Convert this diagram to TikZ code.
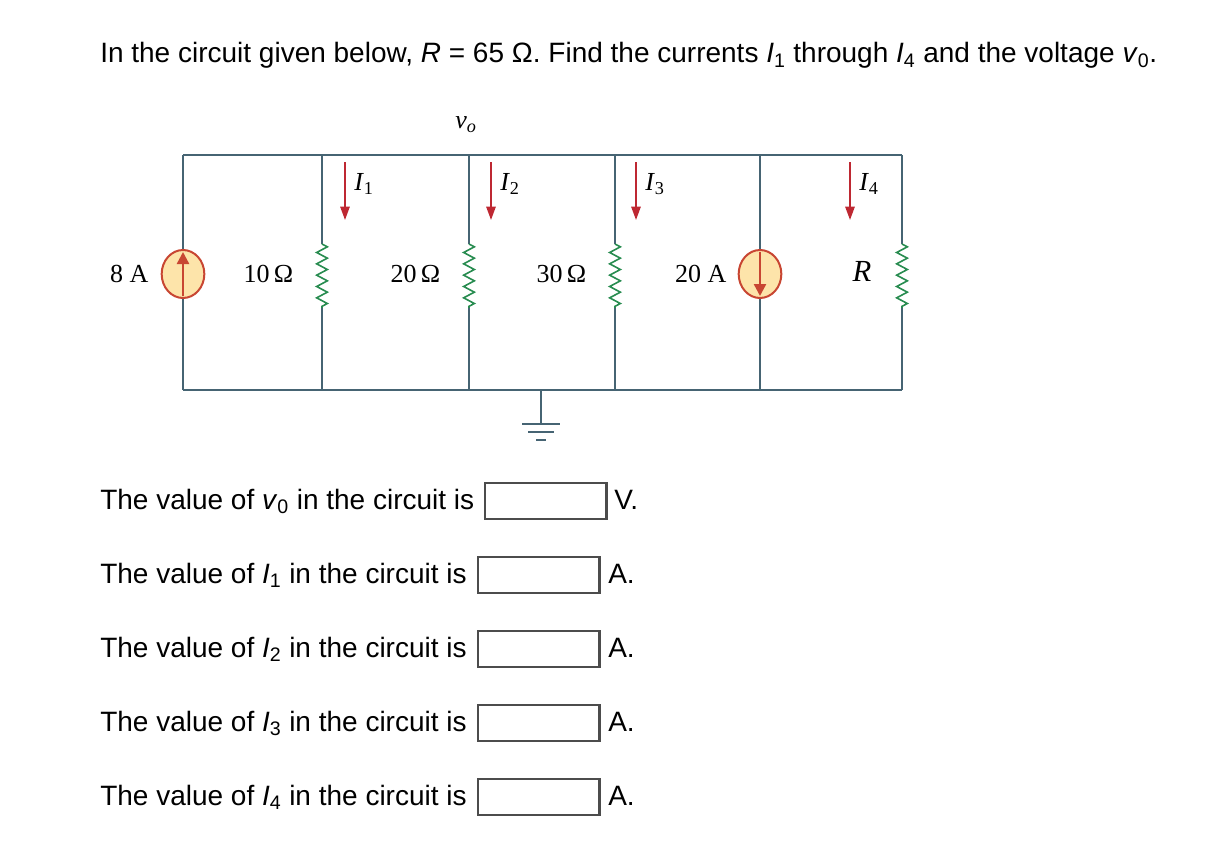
\documentclass[tikz,border=0pt]{standalone}
\usepackage{fontspec}
\setmainfont{Liberation Sans}
\newfontfamily\serifc{Liberation Serif}
\usetikzlibrary{decorations.pathmorphing,arrows.meta,shapes.geometric}
\definecolor{wire}{RGB}{70,100,115}
\definecolor{resg}{RGB}{40,140,80}
\definecolor{arr}{RGB}{190,40,50}
\definecolor{srcfill}{RGB}{253,228,170}
\definecolor{srcdraw}{RGB}{200,70,50}
\begin{document}
\begin{tikzpicture}[x=0.75pt,y=-0.75pt,
  wirel/.style={draw=wire,line width=1.3pt},
  resist/.style={draw=resg,line width=1.2pt,decorate,decoration={zigzag,segment length=8.5pt,amplitude=4pt}},
  src/.style={ellipse,draw=srcdraw,fill=srcfill,line width=1.5pt,minimum width=32pt,minimum height=36pt,inner sep=0pt},
  carrow/.style={draw=arr,line width=1.3pt,-{Triangle[length=10pt,width=7pt]}},
  clab/.style={font=\serifc\fontsize{19.5}{22}\selectfont},
  qtext/.style={font=\fontsize{21}{24}\selectfont,anchor=base west,inner sep=0pt},
  ansbox/.style={draw=black!70,line width=1.8pt,minimum width=91pt,minimum height=27pt,inner sep=0pt,anchor=west}]
\useasboundingbox (0,0) rectangle (1214,856);
% title
\node[qtext] (title) at (100,63) {In the circuit given below, \textit{R} = 65 Ω. Find the currents \textit{I}\textsubscript{1} through \textit{I}\textsubscript{4} and the voltage \textit{v}\textsubscript{0}.};
\foreach \n/\x in {a/183,b/322,c/469,d/615,e/760,f/902}{
  \coordinate (t\n) at (\x,155);
  \coordinate (b\n) at (\x,390);
}
\draw[wirel] (ta) -- (tf) (ba) -- (bf);
% source 8A
\node[src] (s1) at (183,274) {};
\draw[wirel] (ta) -- (s1.north) (s1.south) -- (ba);
\draw[draw=srcdraw,line width=1.8pt,-{Triangle[length=9pt,width=9pt]}] (183,296) -- (183,252);
\node[clab,anchor=east] (l8) at (153,274) {8 A};
% source 20A
\node[src] (s2) at (760,274) {};
\draw[wirel] (te) -- (s2.north) (s2.south) -- (be);
\draw[draw=srcdraw,line width=1.8pt,-{Triangle[length=9pt,width=9pt]}] (760,252) -- (760,296);
\node[clab,anchor=east] (l20a) at (731,274) {20 A};
% resistors
\foreach \x in {322,469,615,902}{
  \draw[wirel] (\x,155) -- (\x,244);
  \draw[resist] (\x,244) -- (\x,308);
  \draw[wirel] (\x,308) -- (\x,390);
}
\node[clab,anchor=east] (r10) at (298,274) {10\,Ω};
\node[clab,anchor=east] (r20) at (445,274) {20\,Ω};
\node[clab,anchor=east] (r30) at (591,274) {30\,Ω};
\node[anchor=east,font=\serifc\itshape\fontsize{23}{24}\selectfont] (rR) at (876,271) {R};
% current arrows
\foreach \x/\i in {345/1,491/2,636/3,850/4}{
  \coordinate (ca\i) at (\x,162);
  \coordinate (cb\i) at (\x,220);
  \draw[carrow] (ca\i) -- (cb\i);
  \node[clab,anchor=west,inner sep=0pt] (il\i) at (\x+9,184) {\textit{I}\textsubscript{\i}};
}
\node[clab] (v0) at (466,125) {\textit{v}\textsubscript{\textit{o}}};
% ground
\coordinate (g0) at (541,390);
\coordinate (g1) at (541,424);
\draw[draw=wire,line width=1.2pt] (g0) -- (g1);
\draw[draw=wire,line width=1.5pt] (522,424) -- (560,424) (528,432) -- (554,432) (536,440) -- (546,440);
% questions
\node[qtext] (q0) at (100,509) {The value of \textit{v}\textsubscript{0} in the circuit is};
\node[ansbox] (a0) at (484,501) {};
\node[qtext] (u0) at (614,509) {V.};
\foreach \i/\y in {1/583,2/657,3/731,4/805}{
  \node[qtext] (q\i) at (100,\y) {The value of \textit{I}\textsubscript{\i} in the circuit is};
  \node[ansbox] (a\i) at (477,\y-8) {};
  \node[qtext] (u\i) at (608,\y) {A.};
}
\end{tikzpicture}
\end{document}
